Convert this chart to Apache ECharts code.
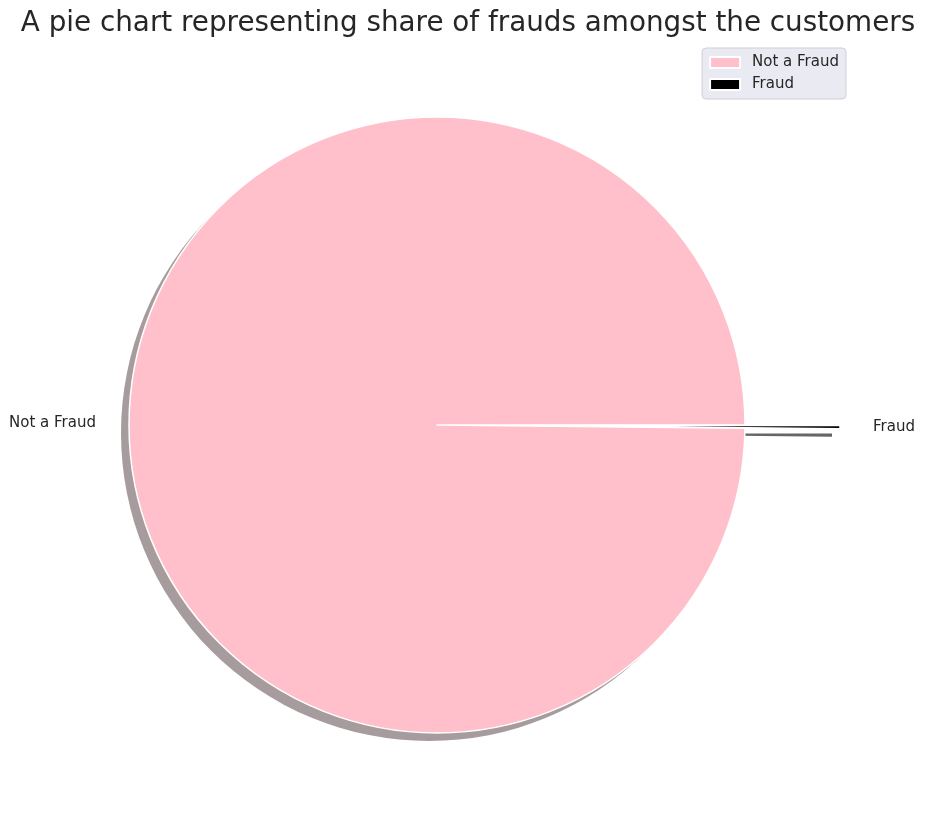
<!DOCTYPE html>
<html>
<head>
<meta charset="utf-8">
<script src="https://cdn.jsdelivr.net/npm/echarts@6/dist/echarts.min.js"></script>
<style>
  html, body { margin: 0; padding: 0; background: #fff; }
  #chart { width: 925px; height: 820px; }
</style>
</head>
<body>
<div id="chart"></div>
<script>
// datos de la grafica
var categorias = ['Not a Fraud', 'Fraud'];
var valores = [284315, 492];
var colores = ['#ffc0cb', '#000000'];
var sombras = ['rgba(77,58,61,0.5)', 'rgba(0,0,0,0.6)'];
var separado = [false, true];

var chartDom = document.getElementById('chart');
var myChart = echarts.init(chartDom);
var option;

// datos del pastel y de su sombra (misma forma, movida abajo a la izquierda)
var datos = categorias.map(function (nombre, i) {
    return {
        name: nombre,
        value: valores[i],
        selected: separado[i],
        itemStyle: { color: colores[i] }
    };
});
var datosSombra = categorias.map(function (nombre, i) {
    return {
        name: nombre,
        value: valores[i],
        selected: separado[i],
        itemStyle: { color: sombras[i] }
    };
});

var pieBase = {
    type: 'pie',
    radius: [0, 308],
    startAngle: 0,
    clockwise: false,
    selectedMode: 'single',
    selectedOffset: 95,
    avoidLabelOverlap: false,
    emphasis: { disabled: true }
};

option = {
    animation: false,
    title: {
        text: 'A pie chart representing share of frauds amongst the customers',
        left: 463,
        top: 5,
        textAlign: 'center',
        textStyle: {
            fontFamily: 'DejaVu Sans',
            fontSize: 27.8,
            fontWeight: 'normal',
            color: '#262626'
        }
    },
    legend: {
        orient: 'vertical',
        right: 79,
        top: 48,
        data: categorias,
        itemWidth: 30,
        itemHeight: 11,
        itemGap: 7,
        padding: [7, 7, 7, 7],
        backgroundColor: '#eaeaf2',
        borderColor: '#cfcfd6',
        borderWidth: 1,
        borderRadius: 4,
        icon: 'rect',
        textStyle: {
            fontFamily: 'DejaVu Sans',
            fontSize: 15,
            color: '#262626',
            padding: [0, 0, 0, 7]
        }
    },
    series: [
        Object.assign({}, pieBase, {
            name: 'pastel',
            z: 3,
            center: [437, 425],
            itemStyle: {
                borderColor: '#ffffff',
                borderWidth: 1.5
            },
            label: {
                show: true,
                position: 'outside',
                fontFamily: 'DejaVu Sans',
                fontSize: 15,
                color: '#262626'
            },
            labelLine: { show: false, length: 28, length2: 0 },
            data: datos
        }),
        Object.assign({}, pieBase, {
            name: 'sombra',
            z: 1,
            silent: true,
            center: [429, 433],
            itemStyle: { borderWidth: 0 },
            label: { show: false },
            labelLine: { show: false },
            data: datosSombra
        })
    ]
};
option && myChart.setOption(option);
</script>
</body>
</html>
